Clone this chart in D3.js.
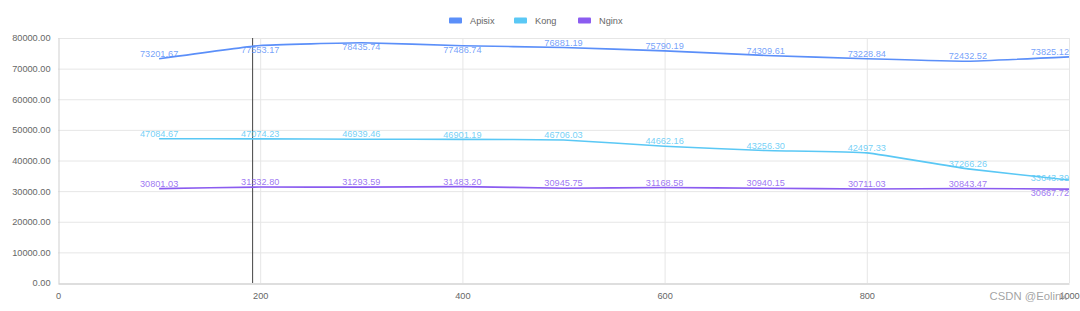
<!DOCTYPE html>
<html>
<head>
<meta charset="utf-8">
<script src="https://cdn.jsdelivr.net/npm/d3@7"></script>
<style>
html,body{margin:0;padding:0;background:#fff;}
svg{display:block;font-family:"Liberation Sans",Arial,sans-serif;}
</style>
</head>
<body>
<svg id="chart" width="1080" height="311"></svg>
<script>
const xValues = [100, 200, 300, 400, 500, 600, 700, 800, 900, 1000];
const seriesNames = ["Apisix", "Kong", "Nginx"];
const apisix = [73201.67, 77553.17, 78435.74, 77486.74, 76881.19, 75790.19, 74309.61, 73228.84, 72432.52, 73825.12];
const kong = [47084.67, 47074.23, 46939.46, 46901.19, 46706.03, 44662.16, 43256.30, 42497.33, 37266.26, 33643.39];
const nginx = [30801.03, 31332.80, 31293.59, 31483.20, 30945.75, 31168.58, 30940.15, 30711.03, 30843.47, 30667.72];
const xTicks = [0, 200, 400, 600, 800, 1000];
const yTicks = [0, 10000, 20000, 30000, 40000, 50000, 60000, 70000, 80000];
const pointerX = 192;
const watermark = "CSDN @Eolink";

const colors = ["#5B8FF9", "#5AC8F5", "#8B5CF0"];
const seriesValues = [apisix, kong, nginx];

const svg = d3.select("#chart");
const m = {left: 58, right: 1069, top: 38, bottom: 283};
const x = d3.scaleLinear().domain([0, 1000]).range([m.left, m.right]);
const y = d3.scaleLinear().domain([0, 80000]).range([m.bottom, m.top]);

// grid
const g = svg.append("g");
g.selectAll(".hg").data(yTicks.filter(d => d > 0)).enter().append("line")
  .attr("x1", m.left).attr("x2", m.right)
  .attr("y1", d => y(d) + 0.5).attr("y2", d => y(d) + 0.5)
  .attr("stroke", "#e6e6e6").attr("stroke-width", 1);
g.selectAll(".vg").data(xTicks.filter(d => d > 0)).enter().append("line")
  .attr("x1", d => x(d) + 0.5).attr("x2", d => x(d) + 0.5)
  .attr("y1", m.top).attr("y2", m.bottom)
  .attr("stroke", "#e6e6e6").attr("stroke-width", 1);

// axes
const yAxis = d3.axisLeft(y).tickValues(yTicks).tickFormat(d3.format(".2f")).tickSize(0).tickPadding(8);
const ya = svg.append("g").attr("transform", `translate(${m.left + 0.5},0)`).call(yAxis);
ya.select(".domain").attr("stroke", "#cfcfcf");
ya.selectAll("text").attr("font-size", 9.2).attr("fill", "#666").attr("font-family", "Liberation Sans, Arial, sans-serif");

const xAxis = d3.axisBottom(x).tickValues(xTicks).tickFormat(d3.format("d")).tickSize(0).tickPadding(9);
const xa = svg.append("g").attr("transform", `translate(0,${m.bottom + 0.5})`).call(xAxis);
xa.select(".domain").attr("stroke", "#bdbdbd").attr("stroke-width", 1.2);
xa.selectAll("text").attr("font-size", 9.2).attr("fill", "#666").attr("font-family", "Liberation Sans, Arial, sans-serif");

// pointer line
svg.append("line")
  .attr("x1", x(pointerX) + 0.5).attr("x2", x(pointerX) + 0.5)
  .attr("y1", m.top).attr("y2", m.bottom)
  .attr("stroke", "#444").attr("stroke-width", 1);

// lines
const line = d3.line().x((d, i) => x(xValues[i])).y(d => y(d)).curve(d3.curveCardinal.tension(0.7));
seriesValues.forEach((vals, si) => {
  svg.append("path").datum(vals)
    .attr("d", line)
    .attr("fill", "none")
    .attr("stroke", colors[si])
    .attr("stroke-width", 1.6);
});

// labels with simple layout
const labelH = 11;
const labels = [];
seriesValues.forEach((vals, si) => {
  vals.forEach((v, i) => {
    const py = y(v);
    let cy = py - 5;
    if (cy < m.top + 4) cy = py + 4;
    labels.push({si, i, v, px: x(xValues[i]), py, cy});
  });
});
// resolve vertical collisions at the same x
xValues.forEach((xv, i) => {
  const at = labels.filter(l => l.i === i).sort((a, b) => a.py - b.py);
  for (let k = 1; k < at.length; k++) {
    if (at[k].cy - at[k - 1].cy < labelH) {
      at[k].cy = at[k].py + 4;
      at[k - 1].cy = Math.min(at[k - 1].cy + 2.5, at[k - 1].py - 2);
    }
  }
});
const fmt = d3.format(".2f");
labels.forEach(l => {
  const t = svg.append("text")
    .attr("x", l.px).attr("y", l.cy)
    .attr("dy", "0.35em")
    .attr("text-anchor", "middle")
    .attr("font-size", 9.2)
    .attr("fill", colors[l.si])
    .attr("fill-opacity", 0.85)
    .text(fmt(l.v));
  const bb = t.node().getBBox();
  if (bb.x + bb.width > m.right) {
    t.attr("text-anchor", "end").attr("x", m.right);
  }
});

// legend
const legend = svg.append("g");
const legendItems = [{x: 449}, {x: 514}, {x: 578}];
seriesNames.forEach((name, si) => {
  const lx = legendItems[si].x;
  legend.append("rect").attr("x", lx).attr("y", 17.5).attr("width", 13).attr("height", 6)
    .attr("rx", 1).attr("fill", colors[si]);
  legend.append("text").attr("x", lx + 21).attr("y", 20.5).attr("dy", "0.35em")
    .attr("font-size", 9.2).attr("fill", "#666").text(name);
});

// watermark
svg.append("text").attr("x", 1067).attr("y", 300).attr("text-anchor", "end")
  .attr("font-size", 11.3).attr("fill", "#999").attr("fill-opacity", 0.9).text(watermark);
</script>
</body>
</html>
